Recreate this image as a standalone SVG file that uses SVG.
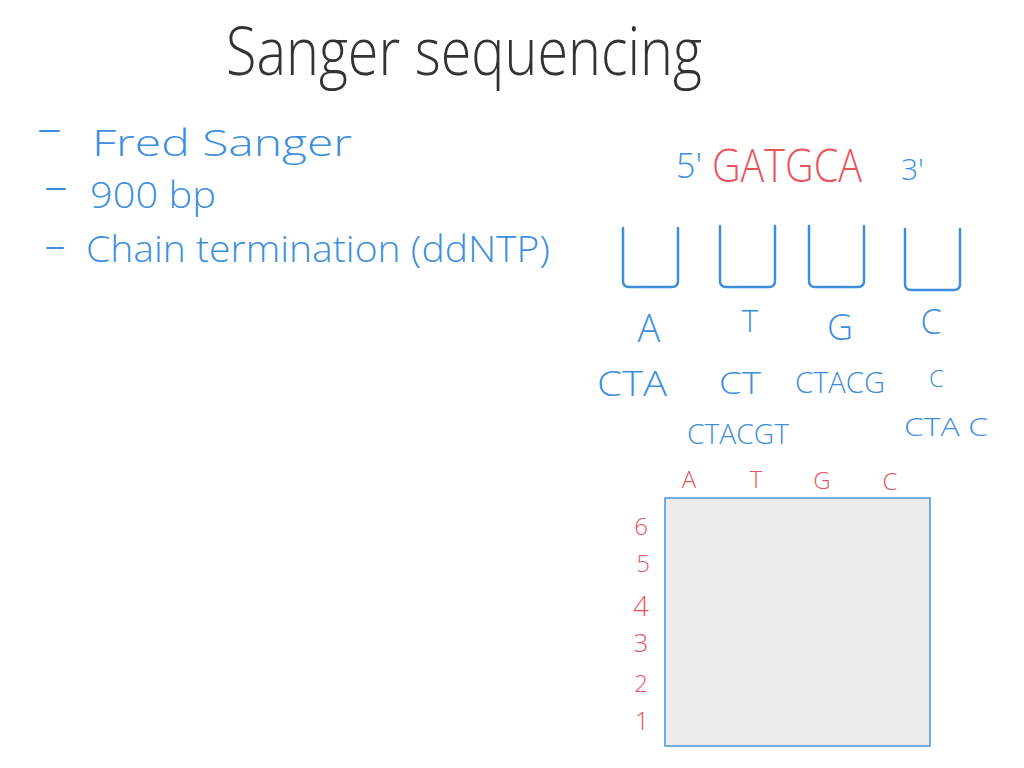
<svg xmlns="http://www.w3.org/2000/svg" width="1024" height="768" viewBox="0 0 1024 768">
<style>
.t{font-family:"Open Sans","Liberation Sans",sans-serif;font-weight:300}
.blue{fill:#3d8fde}
.red{fill:#e9545c}
.dash{stroke:#3d8fde;stroke-width:2;stroke-linecap:round}
.well{fill:none;stroke:#3d8fde;stroke-width:2.5;stroke-linecap:round;stroke-linejoin:round}
</style>
<rect width="1024" height="768" fill="#ffffff"/>
<g id="title"><text class="t" x="226" y="75" font-size="66" fill="#333333" textLength="476" lengthAdjust="spacingAndGlyphs">Sanger sequencing</text></g>
<g id="notes">
<line class="dash" x1="40" y1="131" x2="59" y2="131"/>
<text class="t blue" x="92" y="156" font-size="36" textLength="260" lengthAdjust="spacingAndGlyphs">Fred Sanger</text>
<line class="dash" x1="47" y1="189" x2="65" y2="189"/>
<text class="t blue" x="90" y="208" font-size="36" textLength="126" lengthAdjust="spacingAndGlyphs">900 bp</text>
<line class="dash" x1="47" y1="248" x2="63" y2="248"/>
<text class="t blue" x="86" y="262" font-size="36" textLength="464" lengthAdjust="spacingAndGlyphs">Chain termination  (ddNTP)</text>
</g>
<g id="sequence">
<text class="t blue" x="676" y="178" font-size="34">5'</text>
<text class="t red" x="712" y="182" font-size="46" textLength="150" lengthAdjust="spacingAndGlyphs">GATGCA</text>
<text class="t blue" x="901" y="180" font-size="30">3'</text>
</g>
<g id="wells">
<path class="well" d="M623 228 V281 Q623 287 629 287 H672 Q678 287 678 281 V228"/>
<path class="well" d="M720 226 V281 Q720 287 726 287 H769 Q775 287 775 281 V226"/>
<path class="well" d="M809 226 V281 Q809 287 815 287 H858 Q864 287 864 281 V226"/>
<path class="well" d="M905 229 V284 Q905 290 911 290 H954 Q960 290 960 284 V229"/>
</g>
<g id="labels" text-anchor="middle">
<text class="t blue" x="649" y="342" font-size="38">A</text>
<text class="t blue" x="750" y="332" font-size="32">T</text>
<text class="t blue" x="840" y="340" font-size="36">G</text>
<text class="t blue" x="931" y="334" font-size="34">C</text>
</g>
<g id="fragments">
<text class="t blue" x="597" y="396" font-size="34" textLength="70" lengthAdjust="spacingAndGlyphs">CTA</text>
<text class="t blue" x="719" y="394" font-size="32" textLength="42" lengthAdjust="spacingAndGlyphs">CT</text>
<text class="t blue" x="795" y="393" font-size="30" textLength="90" lengthAdjust="spacingAndGlyphs">CTACG</text>
<text class="t blue" x="929" y="387" font-size="24">C</text>
<text class="t blue" x="687" y="444" font-size="28" textLength="102" lengthAdjust="spacingAndGlyphs">CTACGT</text>
<text class="t blue" x="904" y="436" font-size="26" textLength="84" lengthAdjust="spacingAndGlyphs">CTA C</text>
</g>
<g id="gel">
<rect x="665" y="498" width="265" height="248" fill="#ececed" stroke="#4a93dc" stroke-width="1.5"/>
<g text-anchor="middle">
<text class="t red" x="689" y="488" font-size="24">A</text>
<text class="t red" x="756" y="488" font-size="24">T</text>
<text class="t red" x="822" y="489" font-size="24">G</text>
<text class="t red" x="890" y="490" font-size="24">C</text>
<text class="t red" x="641" y="535" font-size="24">6</text>
<text class="t red" x="643" y="572" font-size="24">5</text>
<text class="t red" x="641" y="616" font-size="28">4</text>
<text class="t red" x="641" y="652" font-size="26">3</text>
<text class="t red" x="641" y="692" font-size="24">2</text>
<text class="t red" x="642" y="730" font-size="26">1</text>
</g>
</g>
</svg>
